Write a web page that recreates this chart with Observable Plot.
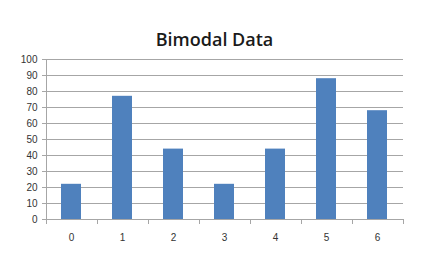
<!DOCTYPE html>
<html>
<head>
<meta charset="utf-8">
<script src="https://cdn.jsdelivr.net/npm/d3@7"></script>
<script src="https://cdn.jsdelivr.net/npm/@observablehq/plot@0.6"></script>
<style>
  body { margin: 0; background: #fff; }
</style>
</head>
<body>
<div id="chart"></div>
<script>
const title = "Bimodal Data";
const categories = ["0", "1", "2", "3", "4", "5", "6"];
const values = [22, 77, 44, 22, 44, 88, 68];
const yTicks = [0, 10, 20, 30, 40, 50, 60, 70, 80, 90, 100];

const data = categories.map((c, i) => ({category: c, value: values[i]}));

const axisColor = "#a6a6a6";
const labelFont = "'Liberation Sans', Arial, sans-serif";

function boundaryTicks(index, scales, values, dimensions) {
  const g = d3.create("svg:g");
  const x = scales.x;
  const bw = typeof x.bandwidth === "function" ? x.bandwidth() : x.bandwidth;
  const xs = categories.map(c => x(c));
  const stepPx = xs[1] - xs[0];
  const offset = (stepPx - bw) / 2;
  const y0 = scales.y(0);
  const edges = xs.map(v => v - offset).concat([xs[xs.length - 1] - offset + stepPx]);
  g.append("line")
    .attr("x1", edges[0]).attr("x2", edges[edges.length - 1])
    .attr("y1", Math.round(y0) + 0.5).attr("y2", Math.round(y0) + 0.5)
    .attr("stroke", axisColor);
  for (const e of edges) {
    g.append("line")
      .attr("x1", Math.round(e) + 0.5).attr("x2", Math.round(e) + 0.5)
      .attr("y1", y0).attr("y2", y0 + 5)
      .attr("stroke", axisColor);
  }
  g.append("line")
    .attr("x1", Math.round(edges[0]) + 0.5).attr("x2", Math.round(edges[0]) + 0.5)
    .attr("y1", scales.y(100)).attr("y2", y0)
    .attr("stroke", axisColor);
  return g.node();
}

const chart = Plot.plot({
  width: 427,
  height: 259,
  marginTop: 59,
  marginBottom: 40,
  marginLeft: 45,
  marginRight: 24,
  style: {fontFamily: labelFont, fontSize: "10px", color: "#404040", background: "#fff"},
  x: {domain: categories, paddingInner: 0.6, paddingOuter: 0.3, label: null},
  y: {domain: [0, 100], label: null},
  marks: [
    Plot.ruleY(yTicks, {y: d => d, stroke: axisColor, strokeOpacity: 1, insetLeft: -3}),
    Plot.barY(data, {x: "category", y: "value", fill: "#4f81bd"}),
    Plot.axisY({ticks: yTicks, tickSize: 0, tickPadding: 8, fill: "#333333", fontFamily: labelFont, fontSize: 10}),
    Plot.axisX({tickSize: 0, tickPadding: 14, fill: "#333333", fontFamily: labelFont, fontSize: 10}),
    Plot.text([title], {frameAnchor: "top", dy: -26, dx: -10, text: d => d, fontSize: 18, fontWeight: 600, fill: "#1a1a1a", fontFamily: "'Open Sans', sans-serif"}),
    boundaryTicks
  ]
});

document.getElementById("chart").append(chart);
</script>
</body>
</html>
